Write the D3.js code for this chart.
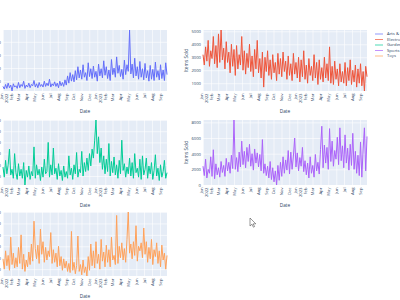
<!DOCTYPE html>
<html>
<head>
<meta charset="utf-8">
<script src="https://cdn.jsdelivr.net/npm/d3@7"></script>
<style>
  body { margin: 0; background: #fff; }
  svg { display: block; font-family: "Open Sans", sans-serif; }
</style>
</head>
<body>
<script>
// Size of the page
var width = 400;
var height = 300;

// Categories and plotly colours
var categories = ["Arts & Crafts", "Electronics", "Gardening", "Sports", "Toys"];
var colors = ["#636efa", "#EF553B", "#00cc96", "#ab63fa", "#FFA15A"];

// Dates: one reading every 5 days from Jan 1 2022
var startDate = new Date(2022, 0, 1);
var stepDays = 5;

// Items sold per category
var artsCrafts = [
  1200, 800, 1500, 900, 1700, 1000, 1400, 500, 1600, 1100,
  1300, 900, 1800, 1000, 1500, 1200, 2000, 900, 1400, 1100,
  1700, 1000, 1500, 1300, 2100, 1100, 1600, 1000, 1800, 1200,
  1500, 1100, 2000, 1200, 1700, 1300, 2300, 1100, 1600, 1300,
  1900, 1200, 1700, 1000, 2000, 1300, 1800, 1200, 2200, 1400,
  2800, 1700, 3300, 2000, 3000, 1900, 3600, 2200, 4200, 2500,
  3700, 2300, 4500, 2600, 3300, 2100, 4800, 2700, 3900, 2400,
  4300, 2600, 3500, 2000, 4600, 2800, 3900, 2500, 5100, 2900,
  4200, 2400, 3700, 2100, 5300, 3000, 4000, 2600, 5700, 3200,
  4400, 2700, 3800, 2300, 5200, 3000, 4500, 3500, 9800, 3100,
  4600, 2500, 5500, 2800, 4200, 2300, 5000, 2600, 3900, 2200,
  4700, 2500, 3600, 2000, 4400, 2300, 3800, 2100, 4900, 2600,
  3600, 2200, 4500, 2400, 3700, 2100, 4800, 3000
];
var electronics = [
  3200, 2400, 3800, 2700, 4300, 2300, 3500, 2900, 4600, 2500,
  3900, 2200, 4800, 2600, 5100, 2800, 3700, 2100, 4200, 2600,
  3400, 1800, 4000, 2300, 3600, 1600, 3900, 2100, 3200, 2400,
  4600, 2000, 3500, 1700, 3300, 2200, 4000, 1900, 3100, 1500,
  3600, 2100, 4300, 1800, 2900, 1400, 3400, 700, 3000, 1900,
  3500, 1600, 2800, 1300, 3200, 1800, 2600, 1200, 3300, 1700,
  2900, 1500, 3400, 1900, 2700, 1300, 3100, 1600, 2500, 1200,
  3300, 1700, 2600, 1400, 3000, 1100, 2800, 1500, 3500, 1300,
  2400, 1000, 2900, 1600, 2300, 1200, 3200, 1400, 2600, 900,
  2800, 1300, 2200, 1100, 3000, 1400, 2500, 1200, 3800, 1000,
  2300, 900, 2700, 1300, 2100, 800, 2500, 1100, 1900, 1000,
  2600, 800, 2200, 1200, 2800, 900, 2000, 1100, 2400, 700,
  2100, 1000, 2500, 800, 1900, 400, 2300, 1500
];
var gardening = [
  1800, 900, 2400, 1200, 2000, 3400, 1100, 1600, 800, 3000,
  1300, 700, 2100, 1000, 1600, 800, 2200, 200, 1500, 900,
  1900, 700, 1400, 1000, 3600, 800, 2000, 1100, 1600, 600,
  1800, 900, 2500, 1200, 1400, 4000, 900, 2000, 1100, 3500,
  1200, 1700, 700, 2100, 1000, 1500, 600, 1900, 900, 1400,
  800, 2800, 1100, 1700, 700, 2000, 1200, 3100, 900, 1600,
  1300, 3200, 1000, 2200, 1400, 2600, 1500, 3000, 1900, 3400,
  2600, 4200, 6000, 3000, 4500, 2200, 3500, 1600, 2800, 1200,
  2500, 1400, 3900, 1000, 2300, 1300, 2700, 1100, 2000, 800,
  2400, 1200, 4200, 1500, 2100, 900, 1800, 1200, 2600, 1000,
  2200, 800, 3000, 1300, 1700, 900, 2500, 700, 2800, 1100,
  1600, 2600, 800, 1900, 1200, 2200, 700, 1500, 2900, 1000,
  1700, 600, 2000, 900, 1400, 2400, 800, 1300
];
var sports = [
  2400, 1200, 3300, 900, 2000, 1500, 3600, 1100, 4500, 800,
  2700, 1300, 2200, 1000, 3000, 1600, 2500, 1100, 3400, 1800,
  2900, 1500, 3800, 2100, 8300, 2000, 3500, 1700, 4200, 2300,
  5600, 2600, 4300, 2200, 4800, 3000, 5200, 2400, 4000, 1900,
  4600, 2800, 4100, 2300, 3900, 1800, 5800, 1500, 2700, 1200,
  2400, 900, 3000, 700, 2200, 400, 1800, 0, 2500, 600,
  2900, 1100, 3600, 1500, 3200, 1900, 4400, 1400, 4200, 2000,
  3700, 6000, 2300, 4100, 1800, 3500, 2400, 4800, 1700, 3100,
  1300, 2800, 900, 3600, 1500, 2500, 1000, 3900, 1800, 2900,
  1400, 4500, 7500, 2200, 5100, 2800, 4800, 2000, 7200, 3000,
  5600, 2400, 4400, 3300, 6100, 2600, 7300, 3100, 5000, 2200,
  6400, 2800, 4700, 1900, 5200, 2500, 6600, 2000, 4300, 1500,
  3800, 1200, 5500, 1000, 4600, 7300, 1800, 6200
];
var toys = [
  1900, 1000, 2600, 1300, 2200, 900, 3800, 1400, 2400, 1100,
  2000, 1200, 2900, 1500, 4000, 1000, 2300, 800, 1800, 1200,
  2500, 1400, 3200, 1700, 5200, 2800, 1900, 3100, 1500, 4500,
  2300, 3400, 1600, 2900, 1800, 2600, 2100, 4200, 1500, 2700,
  1600, 2400, 1200, 3000, 1300, 2100, 900, 1900, 1100, 1700,
  800, 1500, 700, 4300, 900, 1600, 600, 1300, 3900, 800,
  1400, 500, 1800, 700, 1200, 400, 2100, 900, 3200, 1300,
  2600, 1100, 3400, 1500, 2300, 1000, 3600, 1700, 2500, 1200,
  3100, 1600, 2700, 1200, 3800, 1800, 2200, 1400, 5700, 1500,
  3000, 2000, 3300, 1800, 2800, 1600, 3600, 6000, 2400, 3200,
  1900, 3400, 2200, 4800, 1700, 3000, 2600, 3300, 2000, 4600,
  2300, 3400, 1600, 2900, 1900, 3600, 1400, 2700, 2100, 3300,
  1500, 2600, 1200, 3100, 1800, 2400, 1000, 2200
];

// Tick values
var artsTicks = [2000, 4000, 6000, 8000];
var electronicsTicks = [1000, 2000, 3000, 4000, 5000];
var gardeningTicks = [1000, 2000, 3000, 4000, 5000, 6000];
var sportsTicks = [0, 2000, 4000, 6000, 8000];
var toysTicks = [1000, 2000, 3000, 4000, 5000, 6000];
var xTickLabels = ["Jan\n2022", "Feb", "Mar", "Apr", "May", "Jun", "Jul", "Aug", "Sep", "Oct",
  "Nov", "Dec", "Jan\n2023", "Feb", "Mar", "Apr", "May", "Jun", "Jul", "Aug", "Sep"];

var seriesValues = [artsCrafts, electronics, gardening, sports, toys];
var seriesTicks = [artsTicks, electronicsTicks, gardeningTicks, sportsTicks, toysTicks];

var dates = artsCrafts.map(function(d, i) { return d3.timeDay.offset(startDate, i * stepDays); });
var xTickDates = xTickLabels.map(function(d, i) { return d3.timeMonth.offset(startDate, i); });

// Subplot placement
var colX = [[3, 167], [203, 367]];
var rowY = [[30, 91], [120, 185], [212, 276]];
var textColor = "#2a3f5f";

var svg = d3.select("body")
  .append("svg")
  .attr("width", width)
  .attr("height", height);

seriesValues.forEach(function(values, k) {
  var col = k % 2, row = Math.floor(k / 2);
  var x0 = colX[col][0], x1 = colX[col][1];
  var y0 = rowY[row][0], y1 = rowY[row][1];

  var x = d3.scaleTime().domain(d3.extent(dates)).range([x0, x1]);
  var y = d3.scaleLinear().domain(d3.extent(values)).range([y1, y0]);

  var g = svg.append("g");

  g.append("rect")
    .attr("x", x0).attr("y", y0)
    .attr("width", x1 - x0).attr("height", y1 - y0)
    .attr("fill", "#E5ECF6");

  // grid lines
  var gx = g.append("g")
    .attr("transform", "translate(0," + y0 + ")")
    .call(d3.axisBottom(x).tickValues(xTickDates).tickSize(y1 - y0).tickFormat(""));
  var gy = g.append("g")
    .attr("transform", "translate(" + x0 + ",0)")
    .call(d3.axisLeft(y).tickValues(seriesTicks[k]).tickSize(-(x1 - x0)).tickFormat(""));
  [gx, gy].forEach(function(a) {
    a.select(".domain").remove();
    a.selectAll("line").attr("stroke", "#fff").attr("stroke-width", 0.6);
  });

  // the line
  var line = d3.line()
    .x(function(d, i) { return x(dates[i]); })
    .y(function(d) { return y(d); });

  g.append("path")
    .datum(values)
    .attr("fill", "none")
    .attr("stroke", colors[k])
    .attr("stroke-width", 1)
    .attr("stroke-linejoin", "round")
    .attr("d", line);

  // x axis labels, rotated
  var ax = g.append("g")
    .attr("transform", "translate(0," + y1 + ")")
    .call(d3.axisBottom(x).tickValues(xTickDates).tickSize(0)
      .tickFormat(function(d, i) { return xTickLabels[i]; }));
  ax.select(".domain").remove();
  ax.attr("font-size", 4.2).attr("font-family", null);
  ax.selectAll("text").each(function(d, i) {
    var t = d3.select(this);
    var parts = xTickLabels[i].split("\n");
    t.text(null)
      .attr("transform", "rotate(-90)")
      .attr("text-anchor", "end")
      .attr("fill", textColor)
      .attr("x", -2.5).attr("y", 0).attr("dy", null);
    parts.forEach(function(p, j) {
      t.append("tspan")
        .attr("x", -2.5)
        .attr("dy", parts.length > 1 ? (j === 0 ? "-0.2em" : "1.15em") : "0.35em")
        .text(p);
    });
  });

  // y axis labels
  var ay = g.append("g")
    .attr("transform", "translate(" + x0 + ",0)")
    .call(d3.axisLeft(y).tickValues(seriesTicks[k]).tickSize(0).tickPadding(2)
      .tickFormat(d3.format("d")));
  ay.select(".domain").remove();
  ay.attr("font-size", 4.2).attr("font-family", null);
  ay.selectAll("text").attr("fill", textColor);

  // axis titles
  g.append("text")
    .attr("x", (x0 + x1) / 2).attr("y", y1 + 22)
    .attr("text-anchor", "middle")
    .attr("font-size", 4.8).attr("fill", textColor)
    .text("Date");
  g.append("text")
    .attr("transform", "translate(" + (x0 - 15) + "," + ((y0 + y1) / 2) + ") rotate(-90)")
    .attr("text-anchor", "middle")
    .attr("font-size", 4.8).attr("fill", textColor)
    .text("Items Sold");
});

// legend
var legend = svg.append("g").attr("transform", "translate(375,34)");
var items = legend.selectAll("g")
  .data(categories)
  .enter()
  .append("g")
  .attr("transform", function(d, i) { return "translate(0," + (i * 5.5) + ")"; });
items.append("line")
  .attr("x1", 0).attr("x2", 8)
  .attr("stroke", function(d, i) { return colors[i]; })
  .attr("stroke-width", 0.7);
items.append("text")
  .attr("x", 12).attr("dy", "0.35em")
  .attr("font-size", 4.2).attr("fill", textColor)
  .text(function(d) { return d; });

// mouse pointer left in the screenshot
svg.append("path")
  .attr("transform", "translate(250,218)")
  .attr("d", "M0,0 L0,8 L2,6.2 L3.4,9.2 L4.6,8.6 L3.2,5.8 L5.8,5.8 Z")
  .attr("fill", "#fff")
  .attr("stroke", "#333")
  .attr("stroke-width", 0.5);
</script>
</body>
</html>
